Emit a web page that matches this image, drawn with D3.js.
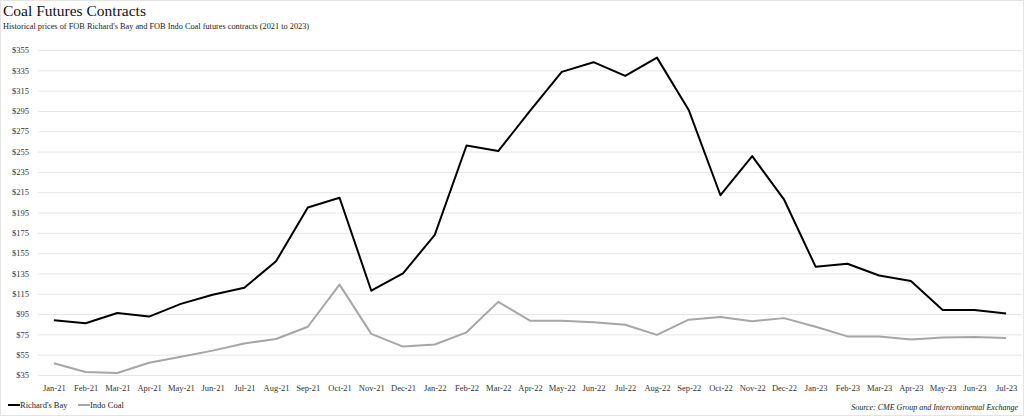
<!DOCTYPE html>
<html>
<head>
<meta charset="utf-8">
<script src="https://cdn.jsdelivr.net/npm/d3@7"></script>
<style>
  body { margin: 0; background: #fff; }
  svg { display: block; font-family: "Liberation Serif", "DejaVu Serif", serif; }
</style>
</head>
<body>
<svg width="1024" height="416"></svg>
<script>
// Data
var months = ["Jan-21","Feb-21","Mar-21","Apr-21","May-21","Jun-21","Jul-21","Aug-21","Sep-21","Oct-21","Nov-21","Dec-21",
              "Jan-22","Feb-22","Mar-22","Apr-22","May-22","Jun-22","Jul-22","Aug-22","Sep-22","Oct-22","Nov-22","Dec-22",
              "Jan-23","Feb-23","Mar-23","Apr-23","May-23","Jun-23","Jul-23"];
var richardsBay = [89, 86, 96, 92.5, 105, 114, 121, 147, 200, 209.5, 118, 135,
                   173, 261, 255.5, 295, 333.5, 343, 329.5, 347.5, 296, 212, 250.5, 208,
                   141.5, 144.5, 133, 127.5, 99, 99, 95.5];
var indoCoal = [46.5, 38, 37, 47, 53, 59, 66, 70.5, 82.5, 124, 75.5, 63,
                65, 77, 107, 88.5, 88.5, 87, 84.5, 74.5, 89.5, 92, 88, 91,
                82.5, 73, 73, 70, 72, 72.5, 71.5];
var yTicks = [35, 55, 75, 95, 115, 135, 155, 175, 195, 215, 235, 255, 275, 295, 315, 335, 355];

var svg = d3.select("svg"),
    width = 1024,
    height = 416,
    margin = {top: 50, right: 2, bottom: 41, left: 38};

// Scales
var x = d3.scalePoint()
    .domain(months)
    .range([margin.left, width - margin.right])
    .padding(0.5);

var y = d3.scaleLinear()
    .domain([35, 355])
    .range([height - margin.bottom, margin.top]);

// Outer border
svg.append("rect")
    .attr("x", 0.5).attr("y", 0.5)
    .attr("width", width - 1).attr("height", height - 1)
    .attr("fill", "none")
    .attr("stroke", "#e4e4e4");

// Title
svg.append("text")
    .attr("x", 3).attr("y", 16)
    .attr("font-size", 15.5)
    .attr("fill", "#111")
    .text("Coal Futures Contracts");

svg.append("text")
    .attr("x", 3).attr("y", 29)
    .attr("font-size", 8.3)
    .attr("fill", "#222")
    .text("Historical prices of FOB Richard's Bay and FOB Indo Coal futures contracts (2021 to 2023)");

// Gridlines + y axis
var yAxis = d3.axisLeft(y)
    .tickValues(yTicks)
    .tickSize(-(width - margin.left - margin.right))
    .tickPadding(9)
    .tickFormat(function(d) { return "$" + d; });

var gy = svg.append("g")
    .attr("transform", "translate(" + margin.left + ",0)")
    .call(yAxis);
gy.select(".domain").remove();
gy.selectAll(".tick line").attr("stroke", "#e6e6e6").attr("stroke-width", 1);
gy.selectAll(".tick text")
    .attr("font-family", "Liberation Serif, serif")
    .attr("font-size", 8.5)
    .attr("fill", "#333");

// x axis
var xAxis = d3.axisBottom(x).tickSize(0).tickPadding(10);
var gx = svg.append("g")
    .attr("transform", "translate(0," + (height - margin.bottom) + ")")
    .call(xAxis);
gx.select(".domain").remove();
gx.selectAll(".tick text")
    .attr("font-family", "Liberation Serif, serif")
    .attr("font-size", 8.5)
    .attr("fill", "#333");

// Lines
var line = function(values) {
  return d3.line()
      .x(function(d, i) { return x(months[i]); })
      .y(function(d) { return y(d); })(values);
};

svg.append("path")
    .attr("d", line(indoCoal))
    .attr("fill", "none")
    .attr("stroke", "#a6a6a6")
    .attr("stroke-width", 2)
    .attr("stroke-linejoin", "round");

svg.append("path")
    .attr("d", line(richardsBay))
    .attr("fill", "none")
    .attr("stroke", "#000")
    .attr("stroke-width", 2)
    .attr("stroke-linejoin", "round");

// Legend
var legend = [{name: "Richard's Bay", color: "#000", x: 8}, {name: "Indo Coal", color: "#a6a6a6", x: 78}];
var lg = svg.append("g").selectAll("g").data(legend).enter().append("g")
    .attr("transform", function(d) { return "translate(" + d.x + ",408)"; });
lg.append("line")
    .attr("x1", 0).attr("x2", 12).attr("y1", -3).attr("y2", -3)
    .attr("stroke", function(d) { return d.color; })
    .attr("stroke-width", 2);
lg.append("text")
    .attr("x", 12).attr("y", 0)
    .attr("font-size", 8.5)
    .attr("fill", "#222")
    .text(function(d) { return d.name; });

// Source
svg.append("text")
    .attr("x", 1018).attr("y", 410)
    .attr("text-anchor", "end")
    .attr("font-size", 8)
    .attr("font-style", "italic")
    .attr("fill", "#222")
    .text("Source: CME Group and Intercontinental Exchange");
</script>
</body>
</html>
